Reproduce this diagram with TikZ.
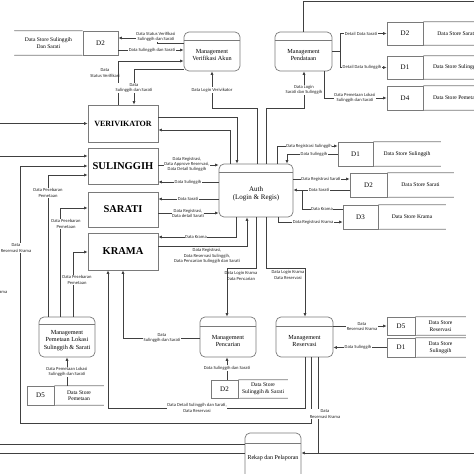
\documentclass[tikz,border=0pt]{standalone}
\usepackage{fontspec}
\setmainfont{Liberation Serif}
\newfontfamily\lblfont{Carlito}
\usetikzlibrary{arrows.meta,calc}
\definecolor{lc}{HTML}{404040}
\definecolor{bc}{HTML}{7A7A7A}
\begin{document}
\begin{tikzpicture}[x=1pt,y=-1pt,
 flow/.style={draw=lc, line width=0.8pt, -{Latex[length=3.5pt,width=3.2pt]}},
 wire/.style={draw=lc, line width=0.8pt},
 lbl/.style={font=\lblfont\fontsize{4.6}{5.3}\selectfont, align=center, inner sep=0.6pt, fill=white, text=black!85},
 lbln/.style={lbl, fill=none},
 actor/.style={draw=bc, line width=0.7pt, minimum width=70pt, inner sep=0pt, font=\bfseries\fontsize{10.5}{12}\selectfont},
 proc/.style={draw=bc, line width=0.7pt, rounded corners=5pt, inner sep=0pt},
 ptext/.style={font=\fontsize{6.2}{7.4}\selectfont, align=center, inner sep=0pt},
 sid/.style={draw=bc, line width=0.7pt, inner sep=0pt, font=\fontsize{7}{8}\selectfont},
 stext/.style={inner sep=0pt, align=center, font=\fontsize{5.6}{6.6}\selectfont},
 sline/.style={draw=bc, line width=0.7pt}
]
\fill[white] (0,0) rectangle (474,474);
\useasboundingbox (0,0) rectangle (474,474);

% ---------- actors
\node[actor, minimum height=37pt, font=\bfseries\fontsize{8}{9}\selectfont] (ver) at (123,123.5) {VERIVIKATOR};
\node[actor, minimum height=36pt] (sul) at (123,166) {SULINGGIH};
\node[actor, minimum height=35pt] (sar) at (123,209.5) {SARATI};
\node[actor, minimum height=37pt] (kra) at (123,251.5) {KRAMA};

% ---------- processes
\node[proc, minimum width=56pt, minimum height=39pt] (va) at (212,51.5) {};
\draw[sline] ($(va.north west)+(0,9)$) -- ($(va.north east)+(0,9)$);
\node[ptext] (vaT) at (212,55) {Management\\Verifikasi Akun};

\node[proc, minimum width=57pt, minimum height=39pt] (pd) at (303.5,51.5) {};
\draw[sline] ($(pd.north west)+(0,9)$) -- ($(pd.north east)+(0,9)$);
\node[ptext] (pdT) at (303.5,55) {Management\\Pendataan};

\node[proc, minimum width=74pt, minimum height=53pt] (auth) at (256,190.5) {};
\draw[sline] ($(auth.north west)+(0,9)$) -- ($(auth.north east)+(0,9)$);
\node[ptext, font=\fontsize{7}{8.4}\selectfont] (authT) at (256,194) {Auth\\(Login \& Regis)};

\node[proc, minimum width=56pt, minimum height=40pt] (pm) at (67,337) {};
\draw[sline] ($(pm.north west)+(0,8)$) -- ($(pm.north east)+(0,8)$);
\node[ptext] (pmT) at (67,340.5) {Management\\Pemetaan Lokasi\\Sulinggih \& Sarati};

\node[proc, minimum width=56pt, minimum height=40pt] (pc) at (228,337) {};
\draw[sline] ($(pc.north west)+(0,10)$) -- ($(pc.north east)+(0,10)$);
\node[ptext] (pcT) at (228,341) {Management\\Pencarian};

\node[proc, minimum width=57pt, minimum height=40pt] (rs) at (304.5,337) {};
\draw[sline] ($(rs.north west)+(0,10)$) -- ($(rs.north east)+(0,10)$);
\node[ptext] (rsT) at (304.5,341) {Management\\Reservasi};

\node[proc, minimum width=56pt, minimum height=47pt] (rk) at (273,456.5) {};
\draw[sline] ($(rk.north west)+(0,11)$) -- ($(rk.north east)+(0,11)$);
\node[ptext, font=\fontsize{6}{7}\selectfont] (rkT) at (273,458) {Rekap dan Pelaporan};

% ---------- data stores
\node[sid, minimum width=35pt, minimum height=24pt] (tlid) at (100.5,43) {D2};
\node[stext, anchor=east, minimum width=68pt, minimum height=24pt] (tlt) at (tlid.west) {Data Store Sulinggih\\Dan Sarati};
\draw[sline] (tlid.north west) -- (tlt.north west) (tlid.south west) -- (tlt.south west);

\node[sid, minimum width=36pt, minimum height=23pt] (pd2) at (405,33.5) {D2};
\node[stext, anchor=west, minimum width=66pt, minimum height=23pt] (pd2t) at (pd2.east) {Data Store Sarati};
\draw[sline] (pd2.north east) -- (pd2t.north east) (pd2.south east) -- (pd2t.south east);

\node[sid, minimum width=36pt, minimum height=23pt] (pd1) at (405,67.5) {D1};
\node[stext, anchor=west, minimum width=66pt, minimum height=23pt] (pd1t) at (pd1.east) {Data Store Sulinggih};
\draw[sline] (pd1.north east) -- (pd1t.north east) (pd1.south east) -- (pd1t.south east);

\node[sid, minimum width=36pt, minimum height=24pt] (pd4) at (405,98) {D4};
\node[stext, anchor=west, minimum width=66pt, minimum height=24pt] (pd4t) at (pd4.east) {Data Store Pemetaan};
\draw[sline] (pd4.north east) -- (pd4t.north east) (pd4.south east) -- (pd4t.south east);

\node[sid, minimum width=35pt, minimum height=24pt] (ad1) at (355.5,154) {D1};
\node[stext, anchor=west, minimum width=67pt, minimum height=24pt] (ad1t) at (ad1.east) {Data Store Sulinggih};
\draw[sline] (ad1.north east) -- (ad1t.north east) (ad1.south east) -- (ad1t.south east);

\node[sid, minimum width=37pt, minimum height=24pt] (ad2) at (368.5,185) {D2};
\node[stext, anchor=west, minimum width=66pt, minimum height=24pt] (ad2t) at (ad2.east) {Data Store Sarati};
\draw[sline] (ad2.north east) -- (ad2t.north east) (ad2.south east) -- (ad2t.south east);

\node[sid, minimum width=35pt, minimum height=24pt] (ad3) at (360.5,217) {D3};
\node[stext, anchor=west, minimum width=67pt, minimum height=24pt] (ad3t) at (ad3.east) {Data Store Krama};
\draw[sline] (ad3.north east) -- (ad3t.north east) (ad3.south east) -- (ad3t.south east);

\node[sid, minimum width=28pt, minimum height=18pt] (rd5) at (401,326) {D5};
\node[stext, anchor=west, minimum width=50pt, minimum height=18pt] (rd5t) at (rd5.east) {Data Store\\Reservasi};
\draw[sline] (rd5.north east) -- (rd5t.north east) (rd5.south east) -- (rd5t.south east);

\node[sid, minimum width=28pt, minimum height=19pt] (rd1) at (401,347.5) {D1};
\node[stext, anchor=west, minimum width=50pt, minimum height=19pt] (rd1t) at (rd1.east) {Data Store\\Sulinggih};
\draw[sline] (rd1.north east) -- (rd1t.north east) (rd1.south east) -- (rd1t.south east);

\node[sid, minimum width=27pt, minimum height=18pt] (cd2) at (224.5,389) {D2};
\node[stext, anchor=west, minimum width=49pt, minimum height=18pt] (cd2t) at (cd2.east) {Data Store\\Sulinggih \& Sarati};
\draw[sline] (cd2.north east) -- (cd2t.north east) (cd2.south east) -- (cd2t.south east);

\node[sid, minimum width=27pt, minimum height=19pt] (md5) at (40.5,395.5) {D5};
\node[stext, anchor=west, minimum width=49pt, minimum height=19pt] (md5t) at (md5.east) {Data Store\\Pemetaan};
\draw[sline] (md5.north east) -- (md5t.north east) (md5.south east) -- (md5t.south east);

% ---------- free ends
\coordinate (topr) at (480,1);
\coordinate (rr) at (480,453);
\coordinate (ll1) at (-5,444);
\coordinate (ll2) at (-5,453);
\coordinate (lv) at (-5,123.5);
\coordinate (ls) at (-5,156);

% ---------- connectors around Verifikasi / Pendataan
\draw[flow] (va.west |- 0,43) -- (157,43) -- (157,38) -- (tlid.east |- 0,38);
\node[lbl] (l1) at (156,37) {Data Status Verifikasi\\Sulinggih dan Sarati};
\draw[flow] (tlid.east |- 0,50) -- (va.west |- 0,50);
\node[lbl] (l2) at (152,50) {Data Sulinggih dan Sarati};
\draw[flow] (ver.north -| 118,0) -- (118,61) -- (va.west |- 0,61);
\node[lbln] (l3) at (105,73) {Data\\Status Verifikasi};
\draw[flow] (va.west |- 0,69) -- (134,69) -- (ver.north -| 134,0);
\node[lbl] (l4) at (134,88) {Data\\Sulinggih dan Sarati};
\draw[flow] (auth.north -| 257,0) -- (257,108) -- (212,108) -- (va.south);
\node[lbl] (l5) at (212,90) {Data Login Verivikator};
\draw[flow] (auth.north -| 266,0) -- (266,108) -- (304,108) -- (pd.south -| 304,0);
\node[lbl] (l6) at (304,90) {Data Login\\Sarati dan Sulinggih};
\draw[wire] (pd.north) -- (303.5,1) -- (topr);
\draw[wire] (pd.east) -- (340,51.5);
\draw[flow] (340,51.5) |- (pd2.west);
\draw[flow] (340,51.5) |- (pd1.west);
\node[lbl] (l7) at (361,33.5) {Detail Data Sarati};
\node[lbl] (l8) at (362,67.5) {Detail Data Sulinggih};
\draw[flow] (pd.south -| 324,0) |- (pd4.west);
\node[lbl] (l9) at (355,97.5) {Data Pemetaan Lokasi\\Sulinggih dan Sarati};

% ---------- actors <-> Auth
\draw[flow] (ver.east |- 0,117) -- (237,117) -- (auth.north -| 237,0);
\draw[flow] (auth.north -| 230,0) -- (230,130) -- (ver.east |- 0,130);
\draw[flow] (sul.east |- 0,165) -- (auth.west |- 0,165);
\node[lbl] (l10) at (187,164.5) {Data Registrasi,\\Data Approve Reservasi,\\Data Detail Sulinggih};
\draw[flow] (auth.west |- 0,182) -- (sul.east |- 0,182);
\node[lbl] (l11) at (188,182) {Data Sulinggih};
\draw[flow] (auth.west |- 0,199) -- (sar.east |- 0,199);
\node[lbl] (l12) at (188,199) {Data Sarati};
\draw[flow] (sar.east |- 0,213) -- (auth.west |- 0,213);
\node[lbl] (l13) at (188,213.5) {Data Registrasi,\\Data detail Sarati};
\draw[flow] (auth.south -| 236,0) -- (236,237) -- (kra.east |- 0,237);
\node[lbl] (l14) at (196,237) {Data Krama};
\draw[flow] (kra.east |- 0,246) -- (247,246) -- (auth.south -| 247,0);
\node[lbln, anchor=north] (l15) at (207,248) {Data Registrasi,\\Data Reservasi Sulinggih,\\Data Pencarian Sulinggih dan Sarati};

% ---------- Auth <-> stores
\draw[flow] (auth.north -| 277,0) -- (277,146) -- (ad1.west |- 0,146);
\node[lbl] (l16) at (309,146) {Data Registrasi Sulinggih};
\draw[flow] (ad1.west) -- (287,154) -- (auth.north -| 287,0);
\node[lbl] (l17) at (314,154) {Data Sulinggih};
\draw[flow] (auth.east |- 0,179) -- (ad2.west |- 0,179);
\node[lbl] (l18) at (321,179) {Data Registrasi Sarati};
\draw[flow] (ad2.west |- 0,190) -- (auth.east |- 0,190);
\node[lbl] (l19) at (319,190) {Data Sarati};
\draw[wire] (ad3.west |- 0,209) -- (302,209) -- (302,190);
\node[lbl] (l20) at (322,209) {Data Krama};
\draw[flow] (auth.south -| 278,0) -- (278,222) -- (ad3.west |- 0,222);
\node[lbl] (l21) at (313,222) {Data Registrasi Krama};

% ---------- Auth -> Pencarian / Reservasi
\draw[flow] (auth.south) -- (256,268) -- (227,268) -- (pc.north -| 227,0);
\node[lbln, anchor=north] (l22) at (241,271) {Data Login Krama\\Data Pencarian};
\draw[flow] (auth.south -| 266,0) -- (266,268) -- (305,268) -- (rs.north -| 305,0);
\node[lbln, anchor=north] (l23) at (288,270) {Data Login Krama\\Data Reservasi};

% ---------- Pencarian
\draw[flow] (pc.west |- 0,338) -- (123,338) -- (kra.south);
\node[lbl] (l24) at (162,338) {Data\\Sulinggih dan Sarati};
\draw[flow] (cd2.north -| 227,0) -- (pc.south -| 227,0);
\node[lbl] (l25) at (227,368) {Data Sulinggih dan Sarati};

% ---------- Reservasi
\draw[flow] (rs.east |- 0,326) -- (rd5.west);
\node[lbl] (l26) at (362,326.5) {Data\\Reservasi Krama};
\draw[flow] (rd1.west) -- (rs.east |- 0,347.5);
\node[lbl] (l27) at (358,347.5) {Data Sulinggih};
\draw[flow] (rs.south -| 305,0) -- (305,408) -- (108,408) -- (kra.south -| 108,0);
\node[lbl] (l28) at (197,408) {Data Detail Sulinggih dan Sarati,\\Data Reservasi};
\draw[flow] (rs.south -| 311,0) -- (311,423) -- (20,423) -- (20,166) -- (sul.west);
\node[lbl] (l29) at (16,248) {Data\\Reservasi Krama};
\draw[wire] (rs.south -| 318,0) -- (318,453);
\node[lbl] (l30) at (325,414) {Data\\Reservasi Krama};
\draw[flow] (rr) -- (rk.east |- 0,453);
\draw[wire] (ll1) -- (rk.west |- 0,444);
\draw[wire] (ll2) -- (rk.west |- 0,453);

% ---------- left edge inputs
\draw[flow] (lv) -- (ver.west);
\draw[flow] (ls) -- (sul.west |- 0,156);
\node[lbln] (l31) at (-8,289) {Data\\Reservasi Krama};

% ---------- Pemetaan
\draw[flow] (pm.north -| 48,0) -- (48,175) -- (sul.west |- 0,175);
\node[lbl] (l32) at (48,193) {Data Pesebaran\\Pemetaan};
\draw[flow] (pm.north -| 60,0) -- (60,208) -- (sar.west |- 0,208);
\node[lbl] (l33) at (66,224) {Data Pesebaran\\Pemetaan};
\draw[flow] (pm.north -| 73,0) -- (73,252) -- (kra.west |- 0,252);
\node[lbl] (l34) at (77,280) {Data Pesebaran\\Pemetaan};
\draw[flow] (md5t.north -| 67,0) -- (pm.south -| 67,0);
\node[lbl] (l35) at (67,372) {Data Pemetaan Lokasi\\Sulinggih dan Sarati};
\end{tikzpicture}
\end{document}
